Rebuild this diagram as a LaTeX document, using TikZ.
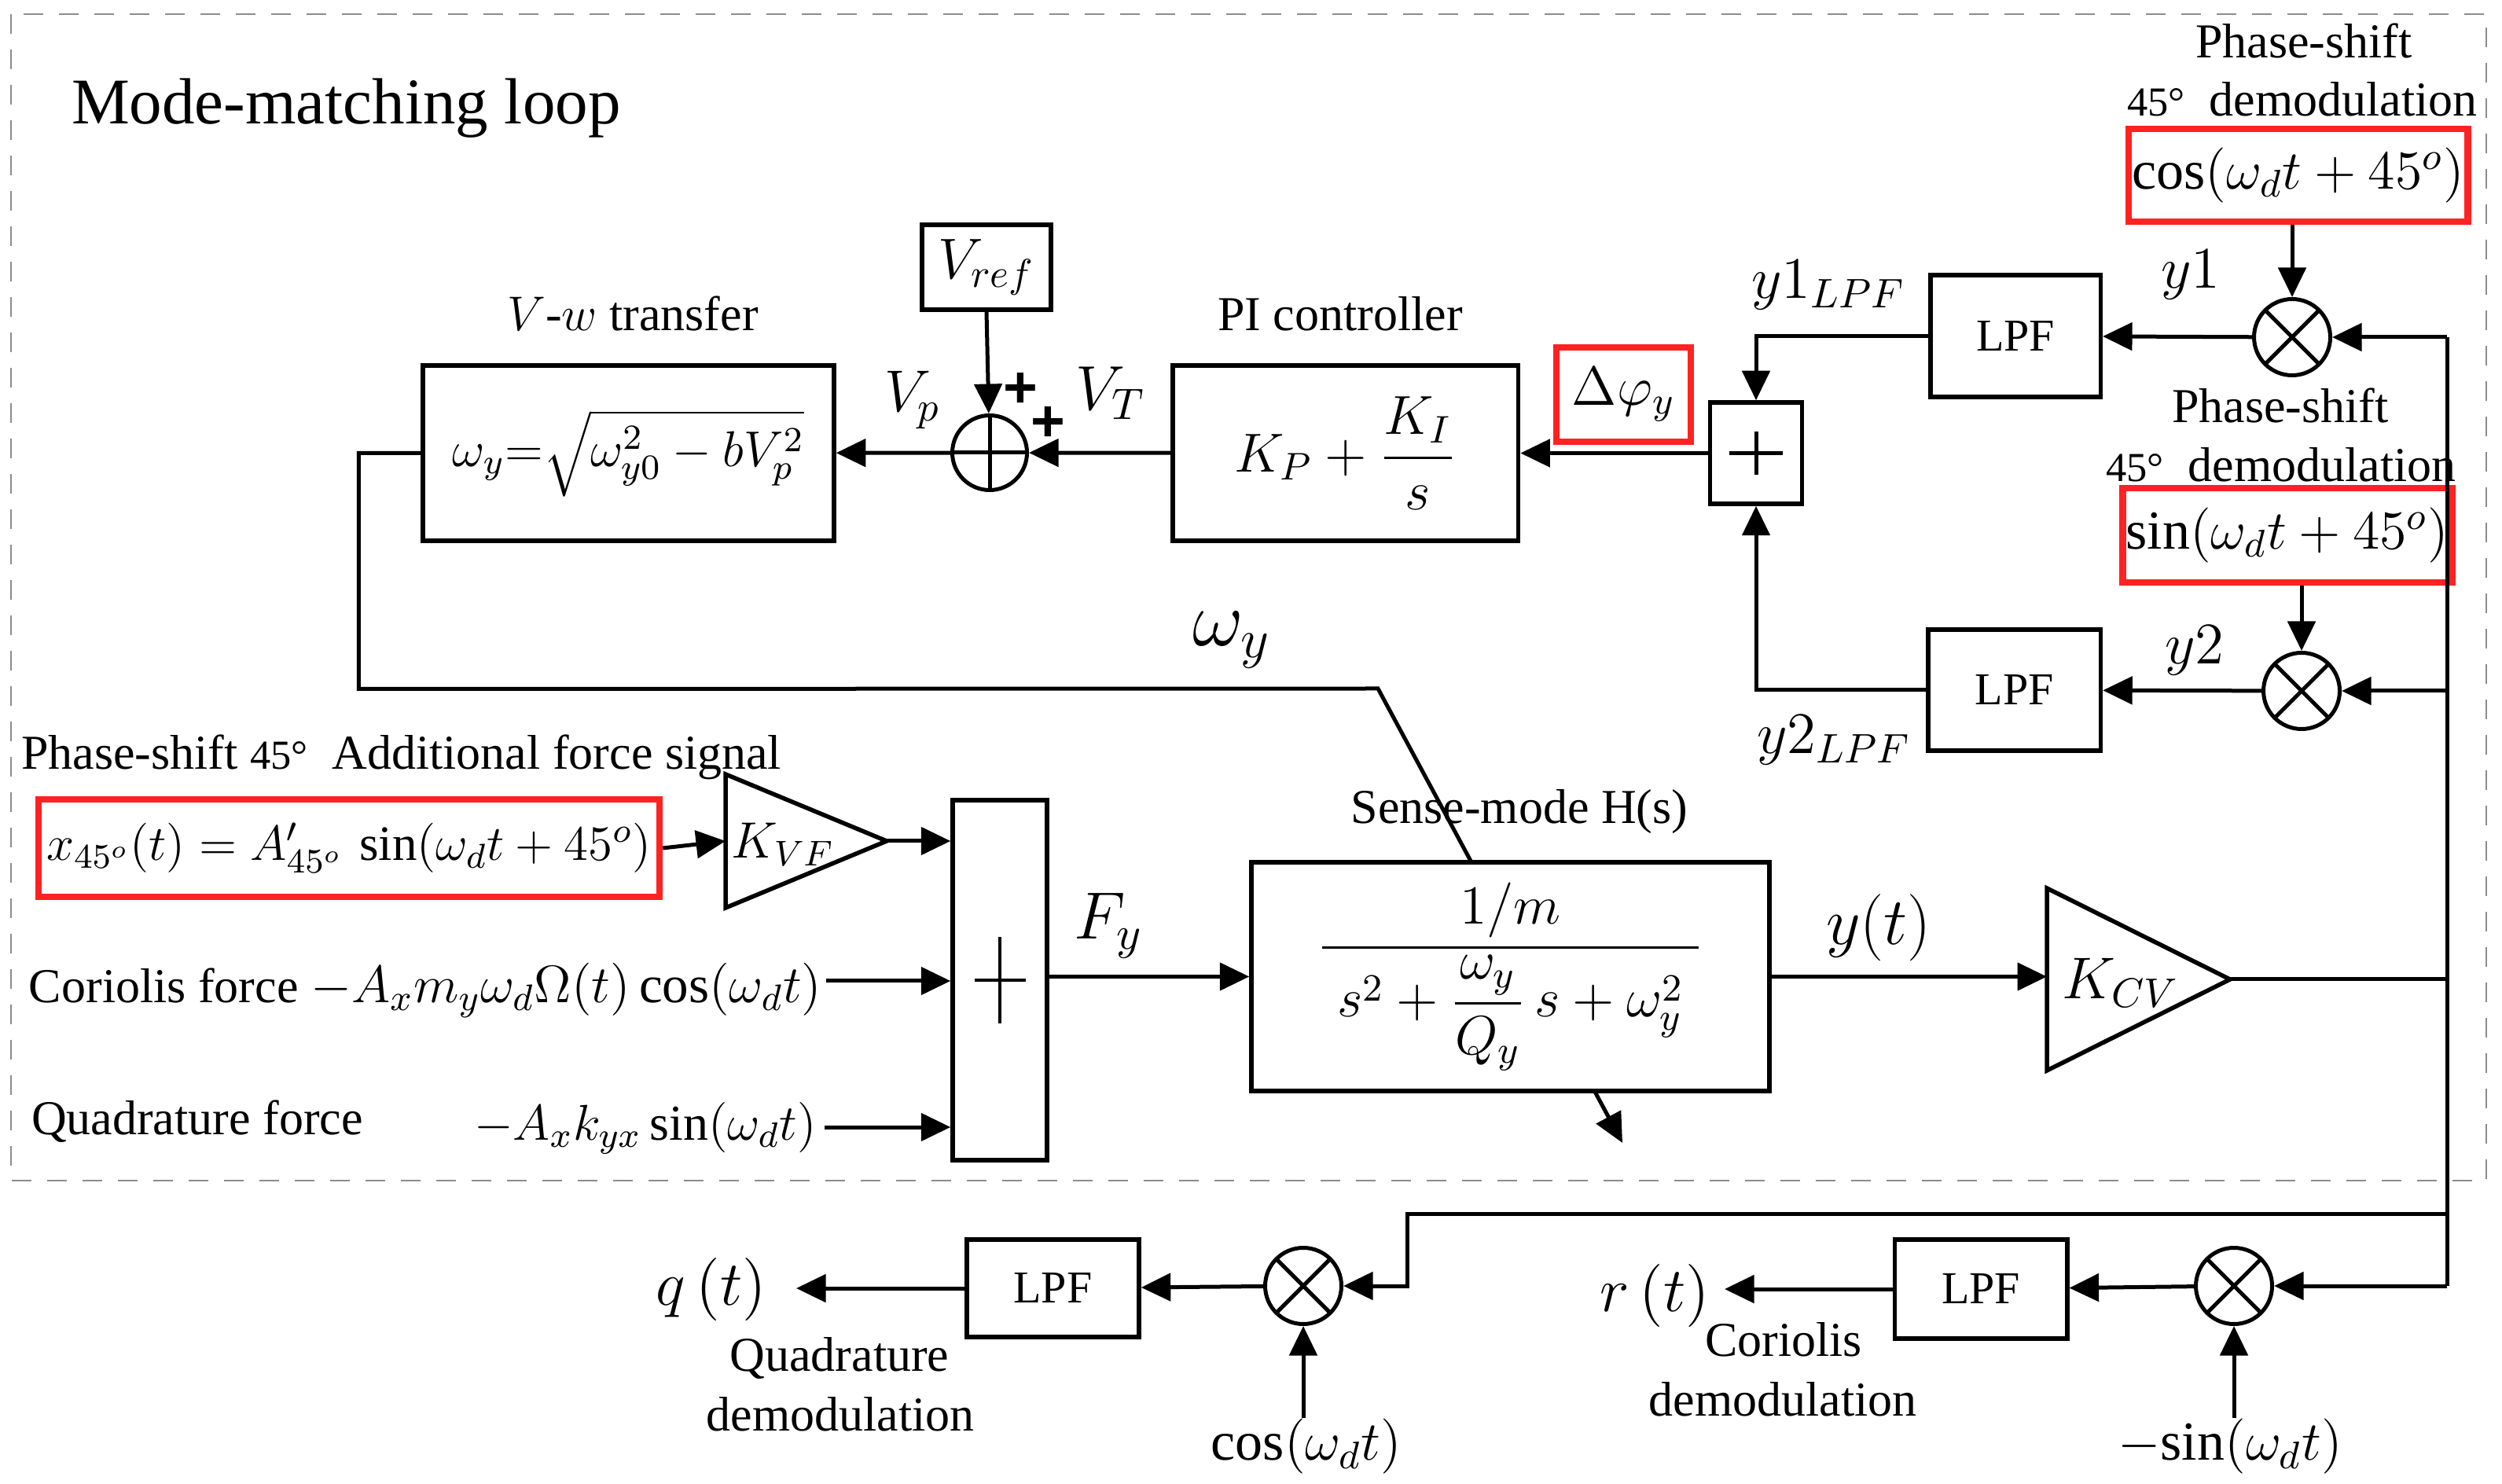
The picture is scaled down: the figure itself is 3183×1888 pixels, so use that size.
\documentclass[tikz,border=0pt]{standalone}
\usepackage{fix-cm}
\usepackage{amsmath}
\usepackage{fontspec}
\setmainfont{Liberation Serif}
\newfontfamily\plusfont{Liberation Sans}
\usetikzlibrary{arrows.meta}
\definecolor{boxred}{RGB}{255,34,34}
\definecolor{framegray}{RGB}{140,140,140}
\newcommand{\fsz}[1]{\fontsize{#1}{#1}\selectfont}
\begin{document}
\begin{tikzpicture}[x=0.2pt,y=-0.2pt,
  blk/.style={draw,line width=1.1pt,fill=white,inner sep=0pt},
  rbox/.style={draw=boxred,line width=1.7pt,inner sep=0pt},
  conn/.style={line width=1pt},
  arr/.style={line width=1pt,-{Triangle[length=7.5pt,width=7pt]}},
  mult/.style={circle,draw,line width=1pt,fill=white,minimum size=19.4pt,inner sep=0pt,
    path picture={\draw[line width=1pt] (path picture bounding box.north west)--(path picture bounding box.south east) (path picture bounding box.north east)--(path picture bounding box.south west);}},
  sumcirc/.style={circle,draw,line width=1pt,fill=white,minimum size=19pt,inner sep=0pt,
    path picture={\draw[line width=1pt] (path picture bounding box.north)--(path picture bounding box.south) (path picture bounding box.west)--(path picture bounding box.east);}},
  lbl/.style={inner sep=0pt},
  tri/.style={draw,line width=1.1pt,fill=white,line join=miter}
]
\useasboundingbox (0,0) rectangle (3183,1888);

% frame
\draw[framegray,line width=0.5pt,dash pattern=on 5pt off 4pt] (14,18) rectangle (3163,1502);

% texts
\node[lbl,anchor=base west] (title) at (90,158) {\fsz{16.6}Mode-matching loop};
\node[lbl,anchor=base] (vwt) at (805,421) {\fsz{12.4}$V$-$w$ transfer};
\node[lbl,anchor=base] (pit) at (1705,421) {\fsz{12.4}PI controller};
\node[lbl,anchor=base] (ps1) at (2931,74) {\fsz{12.4}Phase-shift};
\node[lbl,anchor=base west] (dm1) at (2705,148) {\fsz{12.4}{\fsz{10.5}45°}\ \ demodulation};
\node[lbl,anchor=base] (ps2) at (2901,538) {\fsz{12.4}Phase-shift};
\node[lbl,anchor=base west] (dm2) at (2678,613) {\fsz{12.4}{\fsz{10.5}45°}\ \ demodulation};
\node[lbl,anchor=base west] (pfa) at (26,979) {\fsz{12.4}Phase-shift {\fsz{10.5}45°}\ \ Additional force signal};
\node[lbl,anchor=base] (smt) at (1933,1048) {\fsz{12.4}Sense-mode H(s)};
\node[lbl,anchor=base] (qd1) at (1068,1744) {\fsz{12.4}Quadrature};
\node[lbl,anchor=base] (qd2) at (1069,1820) {\fsz{12.4}demodulation};
\node[lbl,anchor=base] (cd1) at (2269,1725) {\fsz{12.4}Coriolis};
\node[lbl,anchor=base] (cd2) at (2268,1801) {\fsz{12.4}demodulation};

\node[lbl] (wy) at (1567,814) {\fsz{20}$\omega_y$};

% upper blocks
\node[blk,minimum width=32.8pt,minimum height=21.6pt] (vref) at (1255,340) {\fsz{14.6}$V_{ref}$};
\node[blk,minimum width=104.6pt,minimum height=44.6pt] (vw) at (799.5,576.5) {\fsz{12.8}$\omega_y{=}\sqrt{\omega_{y0}^2-bV_p^2}$};
\node[blk,minimum width=87.9pt,minimum height=44.6pt] (pi) at (1711.8,576.5) {\fsz{14}$K_P+\dfrac{K_I}{s}$};
\node[sumcirc] (sumc) at (1259,576) {};
\node[rbox,minimum width=34.2pt,minimum height=24pt] (rphi) at (2065.5,502) {\fsz{14}$\Delta\varphi_y$};
\node[blk,minimum width=23.4pt,minimum height=25.8pt] (sum2) at (2234,576.5) {};
\node[blk,minimum width=43.3pt,minimum height=31pt] (lpf1) at (2564,427.5) {\fsz{11.6}LPF};
\node[blk,minimum width=43.9pt,minimum height=30.8pt] (lpf2) at (2562.7,878) {\fsz{11.6}LPF};
\node[rbox,minimum width=86.3pt,minimum height=23.6pt] (rcos) at (2923.8,223) {\fsz{14}$\cos(\omega_d t+45^{o})$};
\node[rbox,minimum width=83.9pt,minimum height=24pt] (rsin) at (2910,681) {\fsz{14}$\sin(\omega_d t+45^{o})$};
\node[mult] (mcos) at (2916,429) {};
\node[mult] (msin) at (2928,879) {};

\draw[line width=1pt] ([xshift=-6.8pt]sum2.center) -- ([xshift=6.8pt]sum2.center)
  ([yshift=-5.5pt]sum2.center) -- ([yshift=5.5pt]sum2.center);

% labels upper
\node[lbl] (vp) at (1161,509) {\fsz{15}$V_p$};
\node[lbl] (vt) at (1413,500) {\fsz{16}$V_T$};
\node[lbl] (pl1) at (1298,497) {\plusfont\bfseries\fsz{15}+};
\node[lbl] (pl2) at (1333,540) {\plusfont\bfseries\fsz{15}+};
\node[lbl] (y1) at (2787,350) {\fsz{15}$y1$};
\node[lbl] (y1l) at (2326,363) {\fsz{15}$y1_{LPF}$};
\node[lbl] (y2) at (2792,828) {\fsz{15}$y2$};
\node[lbl] (y2l) at (2333,942) {\fsz{15}$y2_{LPF}$};

% right trunk coordinates
\coordinate (rtop) at (3113,429);
\coordinate (rbot) at (3113,1636);
\coordinate (qsplit) at (3113,1544);
\coordinate (qturn) at (1790,1544);

% upper connectors
\draw[arr] (vref.south) -- (sumc);
\draw[arr] (pi) -- (sumc);
\draw[arr] (sumc) -- (vw);
\draw[arr] (sum2) -- (pi);
\draw[arr] (lpf1.west) -| (sum2.north);
\draw[arr] (lpf2.west) -| (sum2.south);
\draw[arr] (mcos) -- (lpf1);
\draw[arr] (msin) -- (lpf2);
\draw[arr] (rcos.south -| mcos) -- (mcos);
\draw[arr] (rsin.south -| msin) -- (msin);
\draw[conn] (rtop) -- (rbot);
\draw[arr] (rtop) -- (mcos);
\draw[arr] (rtop |- msin) -- (msin);

% loop line
\coordinate (loopc) at (1753,876);
\coordinate (loopend) at (2064,1454);
\draw[arr] (vw.west) -- ++(-79,0) -- ++(0,300) -- (loopc) -- (loopend);

% lower blocks
\node[rbox,minimum width=158pt,minimum height=24.8pt] (rx45) at (444,1079) {\fsz{12.6}$x_{45^{o}}(t)=A'_{45^{o}}\,\sin(\omega_d t+45^{o})$};
\coordinate (kvfin) at (923,1070);
\coordinate (kvfout) at (1128,1070);
\draw[tri] (923,985) -- (kvfout) -- (923,1155) -- cycle;
\node[lbl] (kvf) at (996,1074) {\fsz{13}$K_{VF}$};
\node[blk,minimum width=24pt,minimum height=91.6pt] (bigsum) at (1272,1247) {};
\draw[line width=0.8pt] ([xshift=-6.5pt]bigsum.center) -- ([xshift=6.5pt]bigsum.center)
  ([yshift=-11pt]bigsum.center) -- ([yshift=11pt]bigsum.center);
\node[blk,minimum width=131.8pt,minimum height=58.2pt] (sense) at (1921.5,1242.5)
  {\fsz{14}$\dfrac{1/m}{\;s^{2}+\dfrac{\omega_y}{Q_y}\,s+\omega_y^{2}\;}$};
\coordinate (kcvin) at (2604,1246);
\coordinate (kcvout) at (2837,1246);
\draw[tri] (2604,1130) -- (kcvout) -- (2604,1362) -- cycle;
\node[lbl] (kcv) at (2698,1250) {\fsz{15}$K_{CV}$};

\node[lbl,anchor=base west] (cor) at (36,1275) {\fsz{12.4}Coriolis force {\fsz{13.4}$-A_x m_y\omega_d\Omega(t)\cos(\omega_d t)$}};
\node[lbl,anchor=base west] (quadt) at (39,1443) {\fsz{12.4}Quadrature force};
\node[lbl,anchor=base west] (quadm) at (602,1450) {\fsz{12.8}$-A_x k_{yx}\sin(\omega_d t)$};
\coordinate (corend) at (1051,1248);
\coordinate (quadend) at (1049,1434);

\node[lbl] (fy) at (1410,1178) {\fsz{17}$F_y$};
\node[lbl] (yt) at (2390,1180) {\fsz{17}$y(t)$};

% lower connectors
\draw[arr] (rx45.east) -- (kvfin);
\draw[arr] (kvfout) -- (kvfout -| bigsum.west);
\draw[arr] (corend) -- (corend -| bigsum.west);
\draw[arr] (quadend) -- (quadend -| bigsum.west);
\draw[arr] (bigsum.east |- sense.west) -- (sense.west);
\draw[arr] (sense.east) -- (sense.east -| kcvin);
\draw[conn] (kcvout) -- (kcvout -| rtop);

% demodulation blocks
\node[mult] (mq) at (1658,1636) {};
\node[mult] (mr) at (2842,1636) {};
\node[blk,minimum width=43.8pt,minimum height=24.8pt] (lpfq) at (1339.5,1639) {\fsz{11.6}LPF};
\node[blk,minimum width=43.9pt,minimum height=25.2pt] (lpfr) at (2520,1640) {\fsz{11.6}LPF};
\coordinate (qend) at (1013,1639);
\coordinate (rend) at (2194,1640);
\node[lbl] (qt) at (905,1640) {\fsz{16}$q\,(t)$};
\node[lbl] (rt) at (2105,1648) {\fsz{16}$r\,(t)$};
\node[lbl] (cosb) at (1662,1840) {\fsz{14}$\cos(\omega_d t)$};
\node[lbl] (sinb) at (2837,1840) {\fsz{14}$-\!\sin(\omega_d t)$};

\draw[arr] (qsplit) -- (qturn) |- (mq);
\draw[arr] (rbot) -- (mr);
\draw[arr] (mq) -- (lpfq);
\draw[arr] (lpfq.west) -- (qend);
\draw[arr] (mr) -- (lpfr);
\draw[arr] (lpfr.west) -- (rend);
\draw[arr] (cosb.north -| mq) -- (mq);
\draw[arr] (sinb.north -| mr) -- (mr);
\end{tikzpicture}
\end{document}
